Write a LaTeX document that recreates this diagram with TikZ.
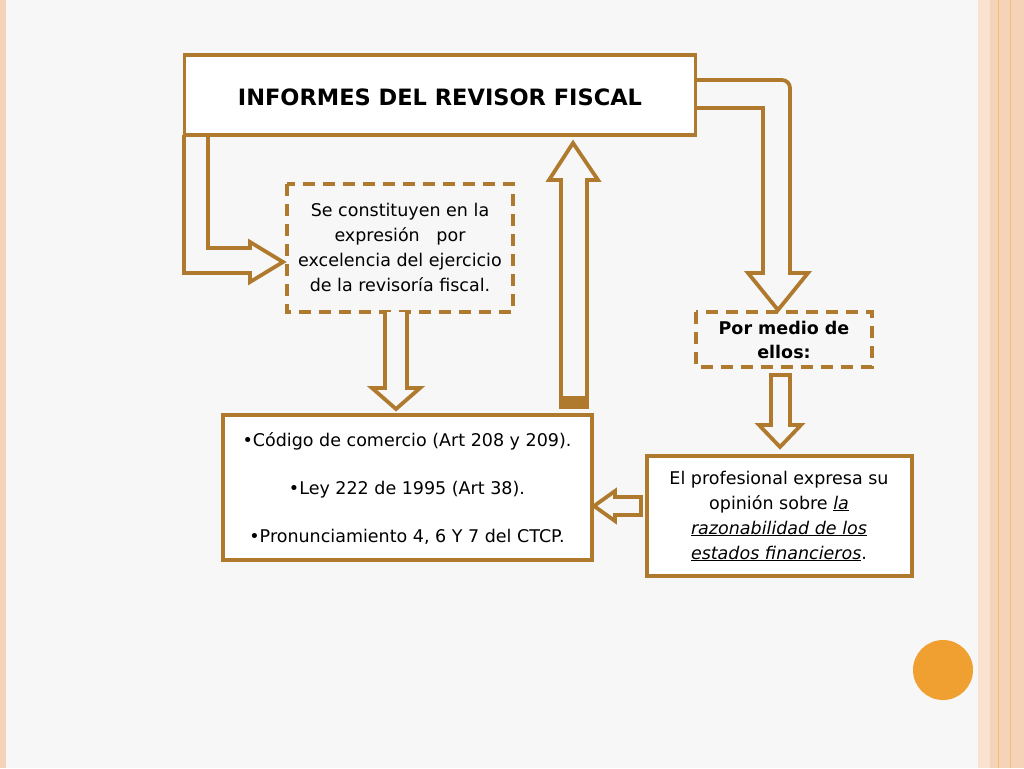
\documentclass[tikz,border=0pt]{standalone}
\usepackage{fontspec}
\setmainfont{DejaVu Sans}
\definecolor{brn}{HTML}{B07A2E}
\definecolor{peach}{HTML}{F5D3B8}
\definecolor{peachl}{HTML}{F9E2CF}
\definecolor{orng}{HTML}{F0A030}
\definecolor{bg}{HTML}{F7F7F7}
\begin{document}
\begin{tikzpicture}[x=1pt,y=-1pt,
  bx/.style={draw=brn,line width=3.8pt,fill=white},
  dbx/.style={draw=brn,line width=3.8pt,dash pattern=on 12pt off 8pt},
  arr/.style={draw=brn,line width=3.8pt,fill=bg,line join=miter},
  txt/.style={font=\fontsize{17.5}{25}\selectfont,align=center,text=black}]
\useasboundingbox (0,0) rectangle (1024,768);
\fill[bg] (0,0) rectangle (1024,768);
\fill[peach] (0,0) rectangle (6,768);
\fill[peachl] (978,0) rectangle (990,768);
\fill[peach] (990,0) rectangle (1024,768);
\draw[orng!70,line width=0.8pt] (998,0) -- (998,768) (1010,0) -- (1010,768);
% left bent arrow
\draw[arr] (184,135) -- (184,273) -- (250,273) -- (250,282) -- (283,262) -- (250,242) -- (250,248) -- (208,248) -- (208,135);
% right bent arrow
\draw[arr] (695,80) -- (782,80) arc[start angle=-90,end angle=0,radius=8] -- (790,273) -- (808,273) -- (778,310) -- (748,273) -- (763,273) -- (763,108) -- (695,108);
% main box
\node[bx,minimum width=511pt,minimum height=80pt,inner sep=0pt] (main) at (440,95) {};
\node[txt,font=\fontsize{22.5}{26}\bfseries\selectfont] (mt) at (440,97) {INFORMES DEL REVISOR FISCAL};
% box1
\draw[dbx] (287,184) rectangle (513,312);
\node[txt] (b1) at (400,247) {Se constituyen en la\\expresión \ \ por\\excelencia del ejercicio\\de la revisoría fiscal.};
% down arrow
\draw[arr] (385,312) -- (385,388) -- (372,388) -- (396,409) -- (420,388) -- (407,388) -- (407,312);
% up arrow
\draw[arr] (561,407) -- (561,180) -- (549,180) -- (573,143) -- (598,180) -- (587,180) -- (587,407) -- cycle;
\fill[brn] (561,396) rectangle (587,408);
% bottom-left box
\draw[bx] (223,415) rectangle (592,560);
\node[txt] (l1) at (407,441) {•Código de comercio (Art 208 y 209).};
\node[txt] (l2) at (407,490) {•Ley 222 de 1995 (Art 38).};
\node[txt] (l3) at (407,537) {•Pronunciamiento 4, 6 Y 7 del CTCP.};
% box2
\draw[dbx] (696,312) rectangle (872,367);
\node[txt,font=\fontsize{17.5}{24}\bfseries\selectfont] (b2) at (784,340) {Por medio de\\ellos:};
\draw[arr] (771,375) -- (771,425) -- (759,425) -- (780,447) -- (801,425) -- (790,425) -- (790,375) -- cycle;
% right box
\draw[bx] (647,456) rectangle (912,576);
\node[txt] (r) at (779,516) {El profesional expresa su\\opinión sobre \underline{\itshape la}\\\underline{\itshape razonabilidad de los}\\\underline{\itshape estados financieros}.};
\draw[arr] (641,497) -- (615,497) -- (615,491) -- (594,506) -- (615,521) -- (615,515) -- (641,515) -- cycle;
\fill[orng] (943,670) circle (30);
\end{tikzpicture}
\end{document}
